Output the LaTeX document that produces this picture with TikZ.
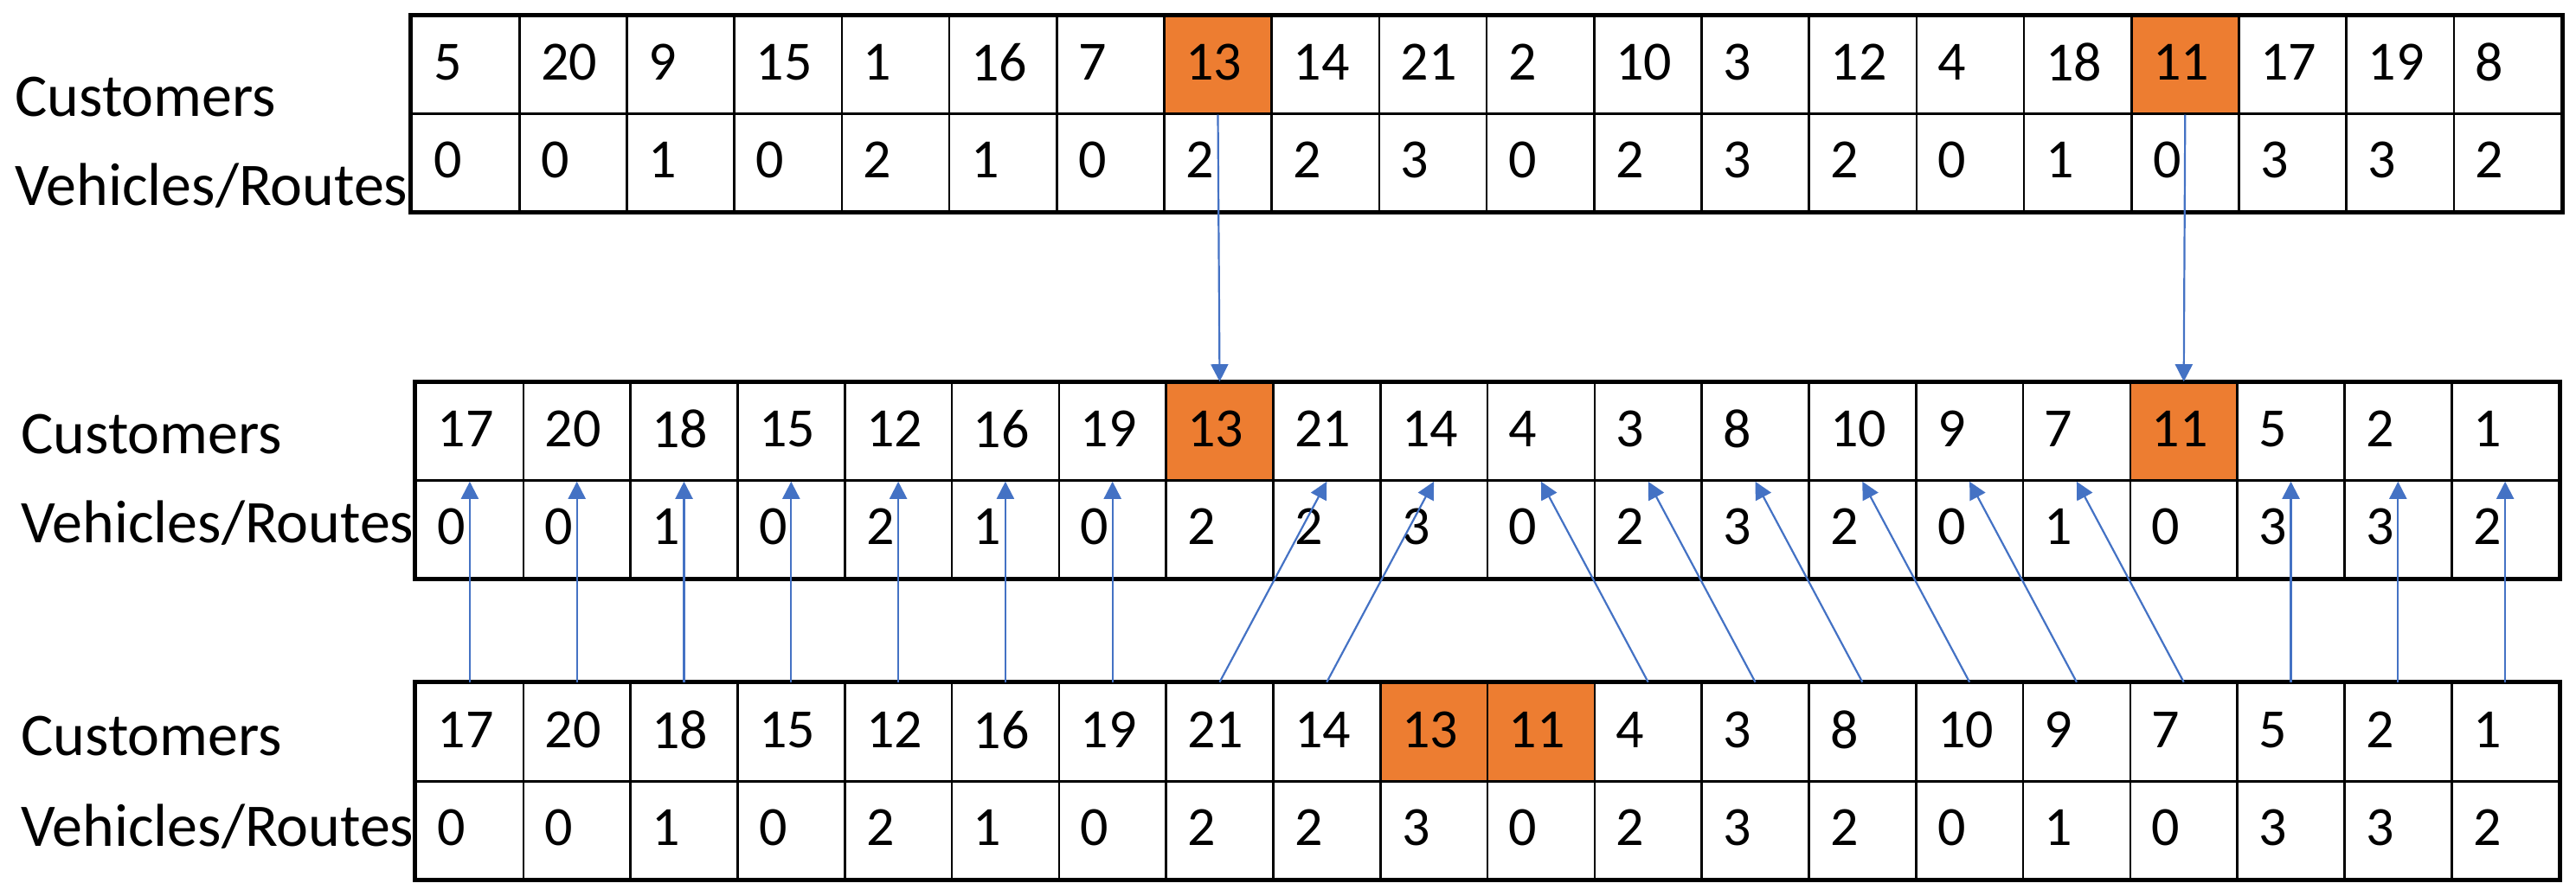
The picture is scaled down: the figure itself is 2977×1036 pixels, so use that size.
\documentclass[tikz,border=0pt]{standalone}
\usepackage{fontspec}
\setmainfont{Carlito}
\usetikzlibrary{arrows.meta}
\definecolor{orng}{HTML}{ED7D31}
\definecolor{arrblue}{HTML}{4472C4}
\begin{document}
\begin{tikzpicture}[x=0.5pt,y=-0.5pt,
  cell/.style={draw=black,line width=1.3pt,minimum height=56.5pt,text width=37pt,
    inner xsep=12pt,inner ysep=0pt,align=left,text depth=3pt,
    font=\fontsize{32pt}{38pt}\selectfont},
  lbl/.style={anchor=base west,inner sep=0pt,font=\fontsize{35pt}{41pt}\selectfont},
  frame/.style={draw=black,line width=2.4pt},
  arr/.style={draw=arrblue,line width=1.1pt,-{Triangle[length=10pt,width=10pt]}}]
\useasboundingbox (0,0) rectangle (2977,1036);
% ---------- top table ----------
\foreach \v/\f [count=\i from 0] in {5/white,20/white,9/white,15/white,1/white,16/white,7/white,13/orng,14/white,21/white,2/white,10/white,3/white,12/white,4/white,18/white,11/orng,17/white,19/white,8/white}
  \node[cell,fill=\f,minimum width=62.1pt] (tc\i) at ({476+124.2*(\i+0.5)},74.75) {\v};
\foreach \v [count=\i from 0] in {0,0,1,0,2,1,0,2,2,3,0,2,3,2,0,1,0,3,3,2}
  \node[cell,minimum width=62.1pt] (tv\i) at ({476+124.2*(\i+0.5)},187.75) {\v};
\draw[frame] (tc0.north west) rectangle (tv19.south east);
% ---------- middle table ----------
\foreach \v/\f [count=\i from 0] in {17/white,20/white,18/white,15/white,12/white,16/white,19/white,13/orng,21/white,14/white,4/white,3/white,8/white,10/white,9/white,7/white,11/orng,5/white,2/white,1/white}
  \node[cell,fill=\f,minimum width=61.9pt] (mc\i) at ({481+123.8*(\i+0.5)},499) {\v};
\foreach \v [count=\i from 0] in {0,0,1,0,2,1,0,2,2,3,0,2,3,2,0,1,0,3,3,2}
  \node[cell,minimum width=61.9pt] (mv\i) at ({481+123.8*(\i+0.5)},612) {\v};
\draw[frame] (mc0.north west) rectangle (mv19.south east);
% ---------- bottom table ----------
\foreach \v/\f [count=\i from 0] in {17/white,20/white,18/white,15/white,12/white,16/white,19/white,21/white,14/white,13/orng,11/orng,4/white,3/white,8/white,10/white,9/white,7/white,5/white,2/white,1/white}
  \node[cell,fill=\f,minimum width=61.9pt] (bc\i) at ({481+123.8*(\i+0.5)},846.5) {\v};
\foreach \v [count=\i from 0] in {0,0,1,0,2,1,0,2,2,3,0,2,3,2,0,1,0,3,3,2}
  \node[cell,minimum width=61.9pt] (bv\i) at ({481+123.8*(\i+0.5)},960) {\v};
\draw[frame] (bc0.north west) rectangle (bv19.south east);
% ---------- row labels ----------
\node[lbl] (tlc) at (17,135) {Customers};
\node[lbl] (tlv) at (17,238) {Vehicles/Routes};
\node[lbl] (mlc) at (24,525) {Customers};
\node[lbl] (mlv) at (24,628) {Vehicles/Routes};
\node[lbl] (blc) at (24,873) {Customers};
\node[lbl] (blv) at (24,978) {Vehicles/Routes};
% ---------- arrows top -> middle ----------
\draw[arr] (tc7.south) -- (mc7.north);
\draw[arr] (tc16.south) -- (mc16.north);
% ---------- arrows bottom -> middle ----------
\foreach \a/\b in {0/0,1/1,2/2,3/3,4/4,5/5,6/6,7/8,8/9,11/10,12/11,13/12,14/13,15/14,16/15,17/17,18/18,19/19}
  \draw[arr] (bc\a.north) -- (mc\b.south);
\end{tikzpicture}
\end{document}
